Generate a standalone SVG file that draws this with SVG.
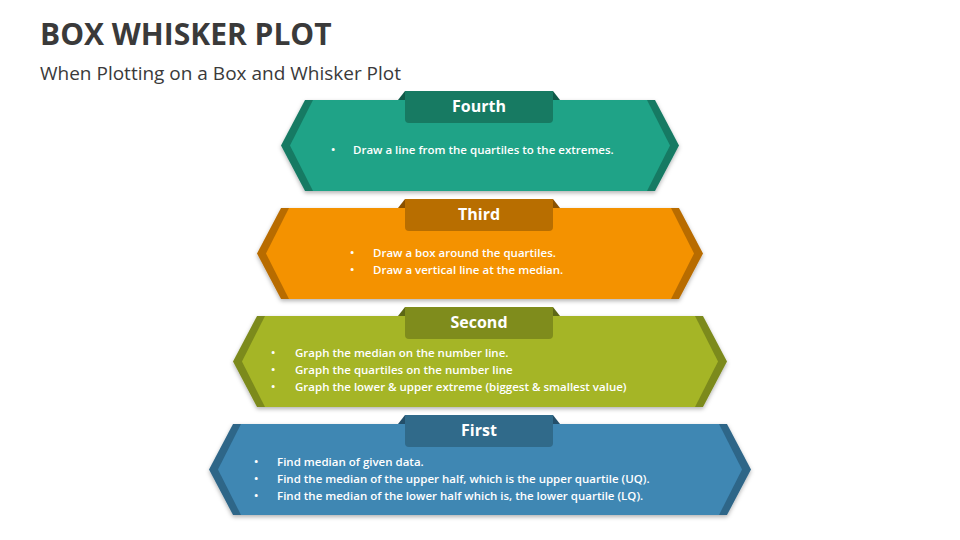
<svg xmlns="http://www.w3.org/2000/svg" width="960" height="540" viewBox="0 0 960 540">
<defs>
<style>
.t{font-family:"Open Sans","Liberation Sans",sans-serif;fill:#fff}
.h{font-weight:700;font-size:16px;text-anchor:middle}
.b{font-weight:600;font-size:11.5px}
</style>
<filter id="sh" x="-5%" y="-10%" width="110%" height="130%"><feDropShadow dx="0" dy="2" stdDeviation="2" flood-opacity="0.3"/></filter>
</defs>
<rect width="960" height="540" fill="#fff"/>
<text x="40" y="45" font-family="Open Sans, Liberation Sans, sans-serif" font-weight="700" font-size="30" fill="#3a3a3a">BOX WHISKER PLOT</text>
<text x="40" y="80" font-family="Open Sans, Liberation Sans, sans-serif" font-size="19" fill="#3a3a3a">When Plotting on a Box and Whisker Plot</text>
<g id="fourth">
<polygon filter="url(#sh)" points="305,100 655,100 679,145.5 655,191 305,191 281,145.5" fill="#167a63"/>
<polygon points="313,100 647,100 670,145.5 647,191 313,191 290,145.5" fill="#1fa387"/>
<polygon points="398,100 405,91 553,91 560,100" fill="#0f5a48"/>
<path d="M405,91H553V119a4,4 0 0 1-4,4H409a4,4 0 0 1-4-4Z" fill="#177a62"/>
<text class="t h" x="479" y="112">Fourth</text>
<text class="t b" x="331" y="154">•</text><text class="t b" x="353" y="154">Draw a line from the quartiles to the extremes.</text>
</g>
<g id="third">
<polygon filter="url(#sh)" points="281,208 679,208 703,253.5 679,299 281,299 257,253.5" fill="#b86c00"/>
<polygon points="289,208 671,208 694,253.5 671,299 289,299 266,253.5" fill="#f49200"/>
<polygon points="398,208 405,199 553,199 560,208" fill="#8a5100"/>
<path d="M405,199H553V227a4,4 0 0 1-4,4H409a4,4 0 0 1-4-4Z" fill="#b86e00"/>
<text class="t h" x="479" y="220">Third</text>
<text class="t b" x="350" y="257">•</text><text class="t b" x="373" y="257">Draw a box around the quartiles.</text>
<text class="t b" x="350" y="274">•</text><text class="t b" x="373" y="274">Draw a vertical line at the median.</text>
</g>
<g id="second">
<polygon filter="url(#sh)" points="257,316 703,316 727,361.5 703,407 257,407 233,361.5" fill="#7c8a1d"/>
<polygon points="265,316 695,316 718,361.5 695,407 265,407 242,361.5" fill="#a5b526"/>
<polygon points="398,316 405,307 553,307 560,316" fill="#5d6815"/>
<path d="M405,307H553V335a4,4 0 0 1-4,4H409a4,4 0 0 1-4-4Z" fill="#7f8c1c"/>
<text class="t h" x="479" y="328">Second</text>
<text class="t b" x="271" y="357">•</text><text class="t b" x="295" y="357">Graph the median on the number line.</text>
<text class="t b" x="271" y="374">•</text><text class="t b" x="295" y="374">Graph the quartiles on the number line</text>
<text class="t b" x="271" y="391">•</text><text class="t b" x="295" y="391">Graph the lower &amp; upper extreme (biggest &amp; smallest value)</text>
</g>
<g id="first">
<polygon filter="url(#sh)" points="233,424 727,424 751,469.5 727,515 233,515 209,469.5" fill="#2e6688"/>
<polygon points="241,424 719,424 742,469.5 719,515 241,515 218,469.5" fill="#3f87b3"/>
<polygon points="398,424 405,415 553,415 560,424" fill="#234f6a"/>
<path d="M405,415H553V443a4,4 0 0 1-4,4H409a4,4 0 0 1-4-4Z" fill="#306a8a"/>
<text class="t h" x="479" y="436">First</text>
<text class="t b" x="254" y="466">•</text><text class="t b" x="277" y="466">Find median of given data.</text>
<text class="t b" x="254" y="483">•</text><text class="t b" x="277" y="483">Find the median of the upper half, which is the upper quartile (UQ).</text>
<text class="t b" x="254" y="500">•</text><text class="t b" x="277" y="500">Find the median of the lower half which is, the lower quartile (LQ).</text>
</g>
<g id="connectors"/>
</svg>
